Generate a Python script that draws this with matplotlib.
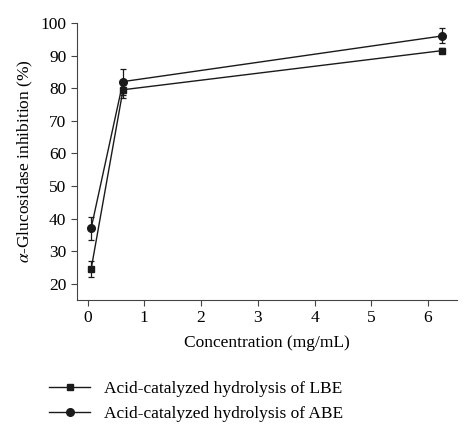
import matplotlib
matplotlib.use("Agg")
import matplotlib.pyplot as plt
from matplotlib.lines import Line2D

plt.rcParams['font.family'] = ['Liberation Serif', 'DejaVu Serif']
plt.rcParams['mathtext.fontset'] = 'stix'

conc = [0.0625, 0.625, 6.25]
lbe = [24.5, 79.5, 91.5]
lbe_err = [2.5, 2.5, 0.8]
abe = [37.0, 82.0, 96.0]
abe_err = [3.5, 4.0, 2.3]
labels = ["Acid-catalyzed hydrolysis of LBE", "Acid-catalyzed hydrolysis of ABE"]

fig = plt.figure(figsize=(4.74, 4.32), dpi=100)
ax = fig.add_axes([0.162, 0.306, 0.802, 0.641])
kw = dict(color='#1a1a1a', lw=1.0, capsize=2.5, elinewidth=0.9, capthick=0.9)
ax.errorbar(conc, lbe, yerr=lbe_err, marker='s', ms=5, **kw)
ax.errorbar(conc, abe, yerr=abe_err, marker='o', ms=5.5, **kw)
ax.set_xlim(-0.19, 6.51)
ax.set_ylim(15.1, 100)
ax.set_xticks(range(0, 7))
ax.set_yticks(range(20, 101, 10))
for s in ['top', 'right']:
    ax.spines[s].set_visible(False)
for s in ['left', 'bottom']:
    ax.spines[s].set_color('#444444')
ax.tick_params(labelsize=12.5, color='#444444', length=4)
ax.set_xlabel("Concentration (mg/mL)", fontsize=12.5, labelpad=6)
ax.set_ylabel(r"$\alpha$-Glucosidase inhibition (%)", fontsize=12.5)

handles = [Line2D([], [], color='#1a1a1a', marker='s', ms=5, lw=1),
           Line2D([], [], color='#1a1a1a', marker='o', ms=5.5, lw=1)]
fig.legend(handles, labels, loc='upper left', bbox_to_anchor=(0.07, 0.155),
           frameon=False, fontsize=12.5, handlelength=2.4, labelspacing=0.5)
fig.savefig("out.png", dpi=100)
